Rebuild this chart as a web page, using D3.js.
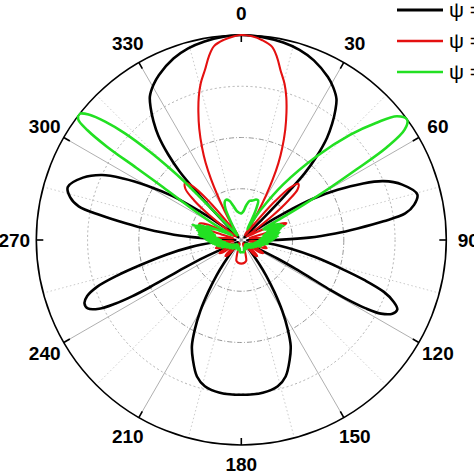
<!DOCTYPE html>
<html>
<head>
<meta charset="utf-8">
<script src="https://cdn.jsdelivr.net/npm/d3@7"></script>
<style>
  html, body { margin: 0; padding: 0; background: #fff; overflow: hidden; }
  svg { display: block; }
</style>
</head>
<body>
<svg class="chart"></svg>
<script>
// polar angles in degrees (clockwise from top), radius normalised 0..1
var blackAngles = [0, 6, 12, 17, 22, 28, 31, 34, 36, 38, 40, 42, 43.5, 44.5, 45.3, 46.5, 50,
	54, 56, 58, 60, 62.5, 65, 67.5, 71, 75.5, 78.5, 80.8, 82.5, 84.3, 86, 88, 89.5, 90.5, 91.5,
	93.5, 95.5, 97, 100, 103, 106, 108, 110, 112, 114, 116, 117.8, 118.8, 119.3, 119.3, 118.8, 118, 117.2, 117.5, 120, 128,
	136, 140, 143, 145, 147.5, 150, 152.5, 155, 158, 162, 166, 172, 180, 188, 194, 198, 202, 205, 207.5, 210, 212.5, 215, 217, 220, 224,
	234, 242, 244.5, 244.8, 244, 243.2, 242.7, 242.7, 243.2, 244.2, 246, 248, 250, 252, 254, 256, 259, 262, 265, 266.5, 268.5,
	271, 272, 273, 274.5, 276.5, 278.2, 280, 281.7, 284, 287, 291.5, 295, 297.5, 300, 302.5, 304.5, 306.5, 308.5, 312,
	315, 316.2, 317, 318, 319.5, 321.5, 323.5, 325.5, 327.5, 330.5, 333.5, 339.5, 344.5, 349.5, 355];
var blackR = [1.0, 0.995, 0.985, 0.97, 0.945, 0.90, 0.87, 0.83, 0.78, 0.72, 0.65, 0.55, 0.45, 0.3, 0.15, 0.03, 0.02,
	0.04, 0.12, 0.25, 0.4, 0.53, 0.65, 0.75, 0.83, 0.887, 0.86, 0.81, 0.7, 0.57, 0.46, 0.33, 0.2, 0.1, 0.03,
	0.03, 0.07, 0.13, 0.25, 0.37, 0.51, 0.63, 0.74, 0.8, 0.833, 0.82, 0.77, 0.69, 0.6, 0.5, 0.4, 0.3, 0.2, 0.1, 0.04, 0.02,
	0.02, 0.06, 0.14, 0.21, 0.3, 0.4, 0.49, 0.57, 0.63, 0.7, 0.735, 0.752, 0.755, 0.752, 0.735, 0.7, 0.63, 0.57, 0.49, 0.4, 0.3, 0.21, 0.14, 0.06, 0.02,
	0.02, 0.04, 0.1, 0.2, 0.3, 0.4, 0.5, 0.6, 0.69, 0.77, 0.82, 0.825, 0.8, 0.74, 0.63, 0.51, 0.37, 0.25, 0.13, 0.07, 0.03,
	0.03, 0.1, 0.2, 0.33, 0.46, 0.57, 0.7, 0.81, 0.86, 0.885, 0.83, 0.75, 0.65, 0.53, 0.4, 0.25, 0.12, 0.04, 0.02,
	0.03, 0.15, 0.3, 0.45, 0.55, 0.65, 0.72, 0.78, 0.83, 0.87, 0.9, 0.945, 0.97, 0.985, 0.995];

var redAngles = [0, 3, 6, 9, 11, 13, 15.5, 17.5, 19.5, 21.7, 24, 25.8, 27.5, 29, 31, 33, 35, 37,
	39, 41, 43, 45.5, 48, 50, 52, 54, 56,
	60, 64, 67, 69.5, 72, 74.5, 77,
	81, 85, 88, 91, 94, 97, 101, 105, 108, 111, 114, 118, 121, 124, 127, 131, 135, 138, 141, 146, 155, 161,
	164, 167, 172, 180, 188, 193, 196, 199,
	205, 214, 219, 222, 225, 229, 233, 236, 239, 242, 246, 249, 252, 255, 259, 263, 266, 269, 272, 275, 279,
	283, 285.5, 288, 291, 293.5, 296, 300,
	304, 306, 308, 310, 312.5, 315.5, 318, 320, 322, 324,
	326, 328, 330, 332, 333.5, 335.2, 337, 339.3, 341.5, 343.5, 345.5, 348, 350, 352, 355, 358];
var redR = [1.0, 0.995, 0.98, 0.955, 0.91, 0.85, 0.79, 0.73, 0.66, 0.58, 0.49, 0.415, 0.33, 0.25, 0.16, 0.09, 0.04, 0.03,
	0.1, 0.25, 0.35, 0.39, 0.37, 0.3, 0.2, 0.08, 0.03,
	0.04, 0.12, 0.2, 0.235, 0.2, 0.1, 0.04,
	0.06, 0.12, 0.15, 0.14, 0.08, 0.04, 0.08, 0.12, 0.13, 0.09, 0.04, 0.08, 0.125, 0.11, 0.05, 0.06, 0.11, 0.1, 0.05, 0.02, 0.02, 0.04,
	0.08, 0.105, 0.112, 0.115, 0.112, 0.105, 0.08, 0.04,
	0.02, 0.02, 0.05, 0.1, 0.11, 0.06, 0.05, 0.11, 0.125, 0.08, 0.04, 0.09, 0.13, 0.12, 0.08, 0.04, 0.08, 0.14, 0.16, 0.12, 0.06,
	0.04, 0.1, 0.2, 0.22, 0.2, 0.12, 0.04,
	0.03, 0.08, 0.2, 0.3, 0.37, 0.39, 0.35, 0.25, 0.1, 0.03,
	0.04, 0.09, 0.16, 0.25, 0.33, 0.415, 0.49, 0.58, 0.66, 0.73, 0.79, 0.85, 0.91, 0.955, 0.98, 0.995];

var greenAngles = [0, 4, 8, 12, 16, 20, 23, 25.5, 27.5, 29.5,
	31, 33, 37, 42, 46, 49, 51.5, 54, 56, 57.5, 58.5, 59.5, 60.5, 61.5, 63,
	64, 65.25, 66.5, 67.75, 69, 70.25, 71.5, 72.75, 74, 75.25, 76.5, 77.75, 79, 80.25, 81.5, 82.75, 84, 85.25, 86.5, 87.75,
	89, 90.25, 91.5, 92.75, 94, 95.25, 96.5, 97.75, 99, 100.25,
	103, 106, 109, 112, 115, 118, 122, 126, 130, 135, 140, 145, 152, 160, 168, 175, 180,
	185, 192, 200, 208, 215, 220, 225, 230, 234, 238, 242, 245, 248, 251, 254, 257, 258.5,
	259.75, 261, 262.25, 263.5, 264.75, 266, 267.25, 268.5, 269.75, 271, 272.25, 273.5, 274.75, 276, 277.25, 278.5, 279.75,
	281, 282.25, 283.5, 284.75, 286, 287.25, 288.5, 289.75, 291, 292.25, 293.5, 295, 296.5,
	298, 300, 302.5, 304, 304.5, 304.8, 305.5, 306.5, 308, 309.5, 311, 312.5, 314, 315, 315.7, 316, 316.5, 317.5, 319,
	322, 326, 330, 333, 336, 339, 343, 347, 352, 356];
var greenR = [0.13, 0.14, 0.17, 0.195, 0.2, 0.21, 0.21, 0.17, 0.1, 0.06,
	0.1, 0.18, 0.34, 0.55, 0.74, 0.87, 0.97, 1.0, 0.96, 0.84, 0.66, 0.5, 0.35, 0.22, 0.12,
	0.18, 0.12, 0.2, 0.13, 0.21, 0.14, 0.22, 0.13, 0.2, 0.12, 0.19, 0.11, 0.19, 0.11, 0.18, 0.1, 0.18, 0.1, 0.17, 0.09,
	0.16, 0.09, 0.15, 0.08, 0.14, 0.08, 0.13, 0.07, 0.13, 0.07,
	0.11, 0.06, 0.1, 0.05, 0.08, 0.04, 0.07, 0.03, 0.06, 0.03, 0.05, 0.03, 0.05, 0.04, 0.06, 0.06, 0.06,
	0.06, 0.04, 0.05, 0.03, 0.05, 0.03, 0.06, 0.03, 0.07, 0.04, 0.08, 0.05, 0.1, 0.06, 0.11, 0.12, 0.07,
	0.13, 0.08, 0.14, 0.08, 0.15, 0.09, 0.16, 0.1, 0.17, 0.1, 0.18, 0.11, 0.2, 0.12, 0.21, 0.13,
	0.21, 0.13, 0.22, 0.14, 0.23, 0.15, 0.25, 0.16, 0.22, 0.14, 0.18, 0.1, 0.08,
	0.06, 0.05, 0.15, 0.3, 0.46, 0.62, 0.8, 0.92, 0.99, 1.0, 0.96, 0.88, 0.77, 0.62, 0.5, 0.4, 0.27, 0.15, 0.07,
	0.04, 0.03, 0.05, 0.1, 0.17, 0.2, 0.21, 0.2, 0.17, 0.14];

var ringValues = [0.25, 0.5, 0.75];
var tickAngles = [0, 30, 60, 90, 120, 150, 180, 210, 240, 270, 300, 330];
var legendNames = ['\u03c8 = 0\u00b0', '\u03c8 = 45\u00b0', '\u03c8 = 90\u00b0'];
var seriesColors = ['#000000', '#e41010', '#22e022'];

var width = 474, height = 474,
	cx = 241.3, cy = 240, R = 205;

var svg = d3.select('svg.chart')
	.attr('width', width)
	.attr('height', height);

svg.append('rect')
	.attr('width', width)
	.attr('height', height)
	.attr('fill', '#fff');

var r = d3.scaleLinear().domain([0, 1]).range([0, R]);
var a = d3.scaleLinear().domain([0, 360]).range([0, 2 * Math.PI]);

var chart = svg.append('g')
	.attr('transform', 'translate(' + cx + ',' + cy + ')');

function polar(deg, rad) {
	return [Math.sin(a(deg)) * rad, -Math.cos(a(deg)) * rad];
}

// minor dotted spokes at odd multiples of 15
chart.selectAll('.minor-spoke')
	.data(d3.range(15, 360, 30))
	.enter()
		.append('line')
			.attr('class', 'minor-spoke')
			.attr('x1', 0).attr('y1', 0)
			.attr('x2', d => polar(d, R)[0])
			.attr('y2', d => polar(d, R)[1])
			.attr('stroke', '#c4c4c4')
			.attr('stroke-width', 0.9)
			.attr('stroke-dasharray', '1.5,2.5');

// major spokes
chart.selectAll('.major-spoke')
	.data(tickAngles.filter(d => d % 90 !== 0))
	.enter()
		.append('line')
			.attr('class', 'major-spoke')
			.attr('x1', 0).attr('y1', 0)
			.attr('x2', d => polar(d, R)[0])
			.attr('y2', d => polar(d, R)[1])
			.attr('stroke', '#9a9a9a')
			.attr('stroke-width', 0.8);

chart.selectAll('.ring')
	.data(ringValues)
	.enter()
		.append('circle')
			.attr('class', 'ring')
			.attr('r', d => r(d))
			.attr('fill', 'none')
			.attr('stroke', (d, i) => i < 2 ? '#8a8a8a' : '#a8a8a8')
			.attr('stroke-width', 0.9)
			.attr('stroke-dasharray', (d, i) => i < 2 ? '5,2,1,2' : '2,2.5');

chart.append('circle')
	.attr('r', r(1))
	.attr('fill', 'none')
	.attr('stroke', '#000')
	.attr('stroke-width', 1.6);

chart.selectAll('.tick')
	.data(tickAngles)
	.enter()
		.append('line')
			.attr('class', 'tick')
			.attr('x1', d => polar(d, R)[0])
			.attr('y1', d => polar(d, R)[1])
			.attr('x2', d => polar(d, R - 7)[0])
			.attr('y2', d => polar(d, R - 7)[1])
			.attr('stroke', '#000')
			.attr('stroke-width', 1.6);

chart.selectAll('.label')
	.data(tickAngles)
	.enter()
		.append('text')
			.attr('class', 'label')
			.attr('x', d => polar(d, R + 22)[0])
			.attr('y', d => polar(d, d === 180 ? R + 19 : R + 22)[1])
			.attr('text-anchor', 'middle')
			.attr('dominant-baseline', 'central')
			.attr('font-family', 'Liberation Sans, Arial, sans-serif')
			.attr('font-weight', 'bold')
			.attr('font-size', 19)
			.text(d => d);

var line = d3.lineRadial()
	.angle(d => a(d[0]))
	.radius(d => r(d[1]))
	.curve(d3.curveCatmullRomClosed.alpha(0.5));

var series = [
	{points: d3.zip(blackAngles, blackR), color: seriesColors[0], w: 2.6},
	{points: d3.zip(redAngles, redR), color: seriesColors[1], w: 2.1},
	{points: d3.zip(greenAngles, greenR), color: seriesColors[2], w: 2.6}
];

svg.append('clipPath')
	.attr('id', 'clip')
	.append('circle')
		.attr('r', R + 1);

chart.append('g')
	.attr('clip-path', 'url(#clip)')
	.selectAll('.curve')
	.data(series)
	.enter()
		.append('path')
			.attr('class', 'curve')
			.attr('d', d => line(d.points))
			.attr('fill', 'none')
			.attr('stroke', d => d.color)
			.attr('stroke-width', d => d.w)
			.attr('stroke-linejoin', 'round');

// legend (runs off the right edge as in the original)
var legend = svg.selectAll('.legend')
	.data(legendNames)
	.enter()
		.append('g')
			.attr('class', 'legend')
			.attr('transform', (d, i) => 'translate(397,' + (10 + i * 31) + ')');

legend.append('line')
	.attr('x1', 0).attr('x2', 46)
	.attr('stroke', (d, i) => seriesColors[i])
	.attr('stroke-width', (d, i) => i === 0 ? 3 : 2.5);

legend.append('text')
	.attr('x', 52)
	.attr('y', 7)
	.attr('font-family', 'Liberation Sans, Arial, sans-serif')
	.attr('font-size', 21)
	.text(d => d);
</script>
</body>
</html>
